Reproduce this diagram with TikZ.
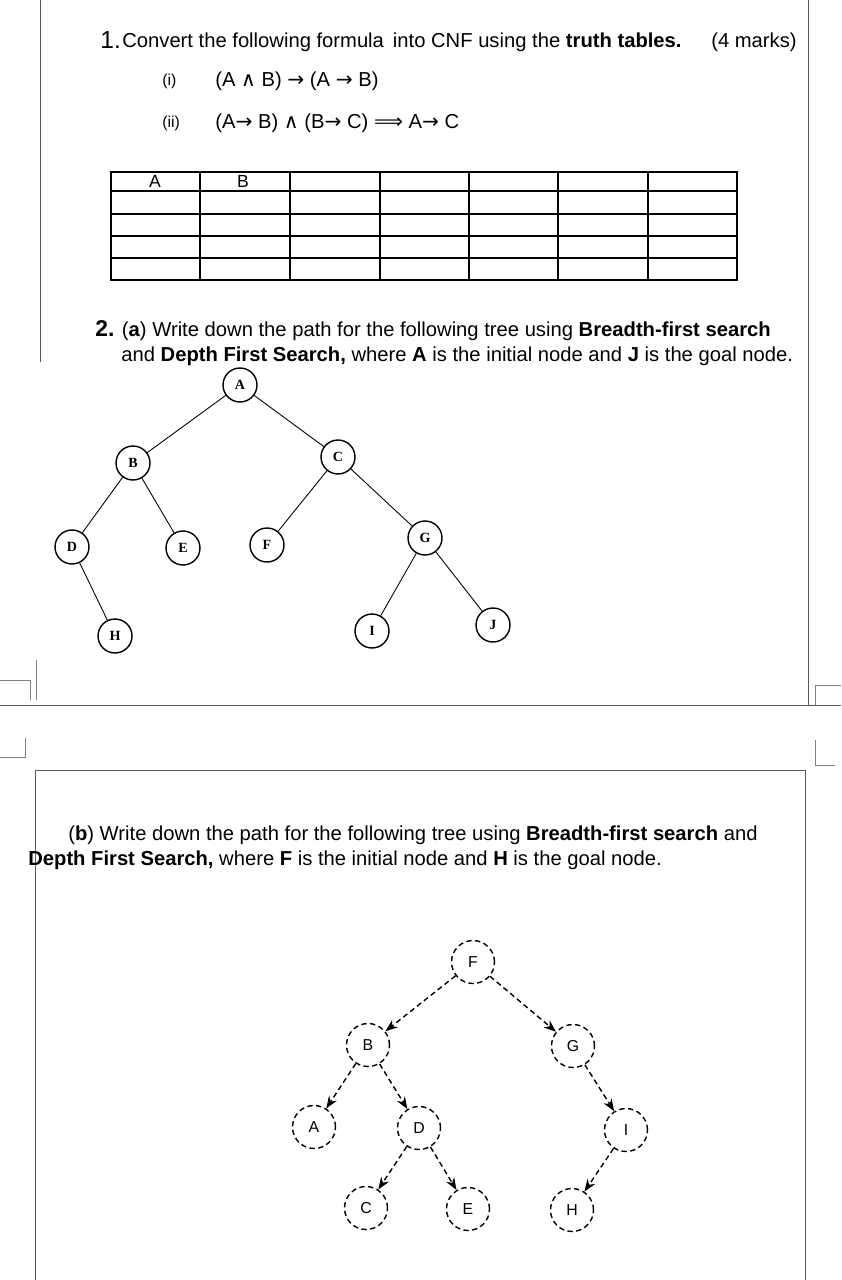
\documentclass[tikz,border=0pt]{standalone}
\usepackage{fontspec}
\setmainfont{Liberation Sans}
\newfontfamily\serifa{Liberation Serif}
\newfontfamily\djv{DejaVu Sans}
\usetikzlibrary{arrows.meta}
\begin{document}
\begin{tikzpicture}[x=0.02cm,y=-0.02cm,
  txt/.style={anchor=west,inner sep=0,font=\fontsize{11.5}{13}\selectfont},
  na/.style={circle,draw,thick,minimum size=0.68cm,inner sep=0,font=\serifa\bfseries\fontsize{8}{9}\selectfont},
  nb/.style={circle,draw,densely dashed,thick,minimum size=0.86cm,inner sep=0,font=\fontsize{9}{10}\selectfont},
  ea/.style={line width=0.5pt},
  eb/.style={densely dashed,thick,-{Stealth[length=7pt]}},
  frame/.style={line width=0.5pt,gray!70!black}]
\useasboundingbox (0,0) rectangle (841,1280);
\fill[white] (0,0) rectangle (841,1280);
% frames
\draw[frame] (40,0) -- (40,362);
\draw[frame] (808,0) -- (808,705);
\draw[frame] (0,705) -- (841,705);
\draw[frame,gray] (0,680) -- (30,680) -- (30,700);
\draw[frame,gray] (36,660) -- (36,700);
\draw[frame,gray] (815,705) -- (815,685) -- (841,685);
\draw[frame,gray] (0,757) -- (25,757) -- (25,738);
\draw[frame,gray] (815,740) -- (815,765) -- (835,765);
\draw[frame] (35,1280) -- (35,770) -- (805,770) -- (805,1280);
% Q1
\node[txt,font=\fontsize{14}{16}\selectfont] (q1) at (100,40) {1.};
\node[txt] (q1t) at (122,42) {Convert the following formula\, into CNF using the \textbf{truth tables.}};
\node[txt,anchor=east] (mk) at (797,42) {(4 marks)};
\node[txt,font=\fontsize{9}{10}\selectfont] (i1) at (162,81) {(i)};
\node[txt] (f1) at (215,81) {(A {\djv ∧} B) {\djv →} (A {\djv →} B)};
\node[txt,font=\fontsize{9}{10}\selectfont] (i2) at (162,123) {(ii)};
\node[txt] (f2) at (215,123) {(A{\djv →} B) {\djv ∧} (B{\djv →} C) {\djv ⟹} A{\djv →} C};
% table
\draw[line width=0.6pt] (111,172) rectangle (737,280);
\foreach \x in {200,290,380,469,558,648} \draw[line width=0.6pt] (\x,172) -- (\x,280);
\foreach \y in {191,214,236,258} \draw[line width=0.6pt] (111,\y) -- (737,\y);
\node[font=\fontsize{10}{11}\selectfont] (ha) at (155,181) {A};
\node[font=\fontsize{10}{11}\selectfont] (hb) at (243,181) {B};
% Q2a
\node[txt] (q2a) at (95,331) {\fontsize{13}{15}\selectfont\textbf{2.}\fontsize{11.5}{13}\selectfont{} (\textbf{a}) Write down the path for the following tree using \textbf{Breadth-first search}};
\node[txt] (q2b) at (121,356) {and \textbf{Depth First Search,} where \textbf{A} is the initial node and \textbf{J} is the goal node.};
\node[na] (A) at (240,385) {A};
\node[na] (B) at (133,463) {B};
\node[na] (C) at (338,457) {C};
\node[na] (D) at (72,547) {D};
\node[na] (E) at (183,548) {E};
\node[na] (F) at (267,545) {F};
\node[na] (G) at (425,538) {G};
\node[na] (H) at (115,636) {H};
\node[na] (I) at (372,631) {I};
\node[na] (J) at (493,625) {J};
\foreach \a/\b in {A/B,A/C,B/D,B/E,C/F,C/G,D/H,G/I,G/J} \draw[ea] (\a) -- (\b);
% Q2b
\node[txt] (q3a) at (68,835) {(\textbf{b}) Write down the path for the following tree using \textbf{Breadth-first search} and};
\node[txt] (q3b) at (28,860) {\textbf{Depth First Search,} where \textbf{F} is the initial node and \textbf{H} is the goal node.};
\node[nb] (bF) at (473,962) {F};
\node[nb] (bB) at (368,1045) {B};
\node[nb] (bG) at (573,1046) {G};
\node[nb] (bA) at (314,1127) {A};
\node[nb] (bD) at (419,1128) {D};
\node[nb] (bI) at (626,1130) {I};
\node[nb] (bC) at (366,1208) {C};
\node[nb] (bE) at (468,1209) {E};
\node[nb] (bH) at (572,1210) {H};
\foreach \a/\b in {bF/bB,bF/bG,bB/bA,bB/bD,bD/bC,bD/bE,bG/bI,bI/bH} \draw[eb] (\a) -- (\b);
\end{tikzpicture}
\end{document}
